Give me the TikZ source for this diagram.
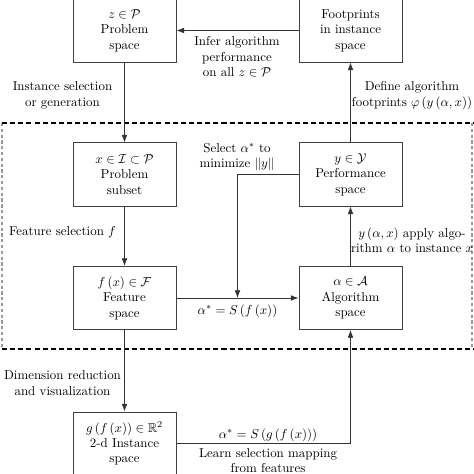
\documentclass[tikz,border=0pt]{standalone}
\usepackage{amsmath,amssymb}
\usetikzlibrary{arrows.meta,calc}
\tikzset{
  box/.style={draw=black!75, line width=0.6pt, minimum width=80pt, minimum height=49pt, align=center, inner sep=2pt},
  arr/.style={draw=black!80, line width=0.6pt, -{Latex[length=6pt,width=4.5pt]}},
  plain/.style={draw=black!80, line width=0.6pt},
  lbl/.style={align=center, inner sep=0pt},
  framehoriz/.style={draw=black, line width=1.3pt, dash pattern=on 3.9pt off 2.4pt},
  framevert/.style={draw=black!40, line width=0.8pt, dash pattern=on 2.5pt off 2pt}
}
\begin{document}
\begin{tikzpicture}[x=0.775pt,y=-0.775pt]
\useasboundingbox (0,0) rectangle (474,474);
% dashed frame
\coordinate (ftl) at (2,123);
\coordinate (ftr) at (474,123);
\coordinate (fbl) at (2,349);
\coordinate (fbr) at (474,349);
\draw[framevert] (2,123) -- (2,349);
\draw[framevert] (472,123) -- (472,349);
\draw[framehoriz] (ftl) -- (ftr);
\draw[framehoriz] (fbl) -- (fbr);
% boxes
\node[box] (ps)   at (124.5,30.5)  {$z\in\mathcal{P}$\\Problem\\space};
\node[box] (fp)   at (350.5,30.5)  {Footprints\\in instance\\space};
\node[box] (sub)  at (124.5,174.5) {$x\in\mathcal{I}\subset\mathcal{P}$\\Problem\\subset};
\node[box] (perf) at (350.5,174.5) {$y\in\mathcal{Y}$\\Performance\\space};
\node[box] (feat) at (124.5,298)   {$f\left(x\right)\in\mathcal{F}$\\Feature\\space};
\node[box] (alg)  at (350.5,298)   {$\alpha\in\mathcal{A}$\\Algorithm\\space};
\node[box] (inst) at (124.5,443.5) {$g\left(f\left(x\right)\right)\in\mathbb{R}^2$\\2-d Instance\\space};
% connectors
\draw[arr] (fp) -- (ps);
\draw[arr] (ps) -- (sub);
\draw[arr] (perf) -- (fp);
\draw[arr] (sub) -- (feat);
\draw[arr] (feat) -- (alg);
\coordinate (m) at ($(feat.east)!0.5!(alg.west)$);
\draw[arr] (perf.west) -| (m);
\draw[arr] (alg) -- (perf);
\draw[arr] (feat) -- (inst);
\draw[arr] (inst.east) -| (alg.south);
% labels
\node[lbl] (l1) at (237,57)   {Infer algorithm\\performance\\on all $z\in\mathcal{P}$};
\node[lbl] (l2) at (62.5,95.5) {Instance selection\\or generation};
\node[lbl] (l3) at (412,95.5) {Define algorithm\\footprints $\varphi\left(y\left(\alpha,x\right)\right)$};
\node[lbl] (l4) at (237,157)  {Select $\alpha^{*}$ to\\minimize $\left\|y\right\|$};
\node[lbl] (l5) at (62.5,232) {Feature selection $f$};
\node[lbl] (l6) at (412,240)  {$y\left(\alpha,x\right)$ apply algo-\\rithm $\alpha$ to instance $x$};
\node[lbl] (l7) at (237.5,311) {$\alpha^{*}=S\left(f\left(x\right)\right)$};
\node[lbl] (l8) at (62.5,383) {Dimension reduction\\and visualization};
\node[lbl] (l9) at (268,435)  {$\alpha^{*}=S\left(g\left(f\left(x\right)\right)\right)$};
\node[lbl] (l10) at (268,460.5) {Learn selection mapping\\from features};
\end{tikzpicture}
\end{document}
